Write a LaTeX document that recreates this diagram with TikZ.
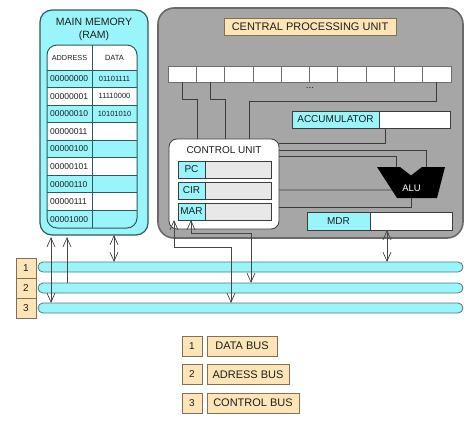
\documentclass[tikz,border=0pt]{standalone}
\usepackage{fontspec}
\setmainfont{Liberation Sans}
\usetikzlibrary{arrows.meta,calc}
\definecolor{cyanF}{RGB}{153,245,250}
\definecolor{memline}{RGB}{45,90,96}
\definecolor{busline}{RGB}{80,120,125}
\definecolor{cpuFill}{RGB}{166,166,166}
\definecolor{cpuLine}{RGB}{105,105,105}
\definecolor{peach}{RGB}{253,229,184}
\definecolor{peachLine}{RGB}{130,112,84}
\definecolor{wireC}{RGB}{60,60,60}
\definecolor{arrC}{RGB}{70,70,70}
\definecolor{regLine}{RGB}{110,110,110}
\definecolor{regGray}{RGB}{232,232,232}
\definecolor{txt}{RGB}{30,30,30}
\begin{document}
\begin{tikzpicture}[x=1pt,y=-1pt,
  font=\fontsize{10}{12}\selectfont, text=txt,
  >={Straight Barb[length=9pt,width=8pt]},
  box/.style={draw, inner sep=0pt, outer sep=0pt, anchor=north west, line width=0.8pt},
  cyanbox/.style={box, fill=cyanF, draw=wireC},
  whitebox/.style={box, fill=white, draw=wireC},
  graybox/.style={box, fill=regGray, draw=wireC},
  peachbox/.style={box, fill=peach, draw=peachLine, line width=1pt},
  cell/.style={box, fill=white, draw=regLine, minimum width=28.3pt, minimum height=16pt},
  busbar/.style={box, fill=cyanF, draw=busline, rounded corners=5pt, minimum width=425pt, minimum height=10pt},
  wire/.style={draw=wireC, line width=0.8pt},
  arr/.style={draw=arrC, line width=0.7pt},
  tabtxt/.style={inner sep=0pt, font=\fontsize{8.5}{10}\selectfont},
  datatxt/.style={inner sep=0pt, font=\fontsize{7.5}{9}\selectfont}
]
\useasboundingbox (0,0) rectangle (474,431);
\fill[white] (0,0) rectangle (474,431);

% ---------- Main memory ----------
\node[box, fill=cyanF, draw=memline, line width=1.2pt, rounded corners=12pt,
      minimum width=108pt, minimum height=225pt] (mem) at (40,10) {};
\node[font=\fontsize{10.5}{12}\selectfont] (memtitle) at (94,22) {MAIN MEMORY};
\node[font=\fontsize{10.5}{12}\selectfont] (memram) at (94,35.5) {(RAM)};

\begin{scope}
  \clip[rounded corners=10pt] (47,45) rectangle (137,228);
  \fill[white] (47,45) rectangle (137,70);
  \foreach \i in {0,...,8}{
    \pgfmathsetmacro{\ya}{70+17.556*\i}
    \pgfmathsetmacro{\yb}{70+17.556*(\i+1)}
    \pgfmathparse{mod(\i,2)==0 ? "cyanF" : "white"}
    \fill[\pgfmathresult] (47,\ya) rectangle (137,\yb);
  }
\end{scope}
\foreach \i in {0,...,8}{
  \pgfmathsetmacro{\ya}{70+17.556*\i}
  \draw[memline, line width=0.8pt] (47,\ya) -- (137,\ya);
}
\draw[memline, line width=0.8pt] (92,45) -- (92,228);
\draw[memline, line width=1pt, rounded corners=10pt] (47,45) rectangle (137,228);

\node[datatxt, font=\fontsize{7.3}{9}\selectfont] (hdaddr) at (69.5,57.5) {ADDRESS};
\node[datatxt, font=\fontsize{7.5}{9}\selectfont] (hddata) at (114.5,57.5) {DATA};
\foreach \a [count=\i from 0] in {00000000,00000001,00000010,00000011,00000100,00000101,00000110,00000111,00001000}{
  \pgfmathsetmacro{\yc}{70+17.556*\i+8.8}
  \node[tabtxt, anchor=west] (addr\i) at (50,\yc) {\a};
}
\foreach \d [count=\i from 0] in {01101111,11110000,10101010}{
  \pgfmathsetmacro{\yc}{70+17.556*\i+8.8}
  \node[datatxt] (data\i) at (114.5,\yc) {\d};
}

% ---------- CPU ----------
\node[box, fill=cpuFill, draw=cpuLine, line width=1.6pt, rounded corners=16pt,
      minimum width=305pt, minimum height=230pt] (cpu) at (158,8) {};
\node[peachbox, minimum width=172pt, minimum height=17pt, font=\fontsize{11}{13}\selectfont]
      (cputitle) at (224,18) {CENTRAL PROCESSING UNIT};

\foreach \i in {1,...,10}{
  \node[cell] (r\i) at ({168+28.3*(\i-1)},66) {};
}
\node (dots) at (310,88) {...};

\node[cyanbox, minimum width=87pt, minimum height=17pt] (acclab) at (292,111) {ACCUMULATOR};
\node[whitebox, minimum width=71pt, minimum height=17pt] (accval) at (379,111) {};

% control unit
\node[box, fill=white, draw=wireC, rounded corners=8pt, minimum width=110pt, minimum height=90pt] (cu) at (169,139) {};
\node (cutitle) at (224,150.5) {CONTROL UNIT};
\node[cyanbox, minimum width=27pt, minimum height=17pt] (pclab) at (178,161) {PC};
\node[graybox, minimum width=66pt, minimum height=17pt] (pcval) at (205,161) {};
\node[cyanbox, minimum width=27pt, minimum height=17pt] (cirlab) at (178,182) {CIR};
\node[graybox, minimum width=66pt, minimum height=17pt] (cirval) at (205,182) {};
\node[cyanbox, minimum width=27pt, minimum height=17pt] (marlab) at (178,203) {MAR};
\node[graybox, minimum width=66pt, minimum height=17pt] (marval) at (205,203) {};

% MDR
\node[cyanbox, minimum width=63pt, minimum height=18pt] (mdrlab) at (307,212) {MDR};
\node[whitebox, minimum width=82pt, minimum height=18pt] (mdrval) at (370,212) {};

% ALU
\coordinate (aluTL) at (377,167);
\coordinate (aluNL) at (400,167);
\coordinate (aluN)  at (411,175.5);
\coordinate (aluNR) at (422,167);
\coordinate (aluTR) at (445,167);
\coordinate (aluBR) at (437,198);
\coordinate (aluBL) at (397,198);
\fill[black] (aluTL) -- (aluNL) -- (aluN) -- (aluNR) -- (aluTR) -- (aluBR) -- (aluBL) -- cycle;
\node[text=white, font=\fontsize{9.5}{11}\selectfont] (alu) at (411.5,188) {ALU};

% wires from register row to control unit
\coordinate (w1) at (197,99);
\coordinate (w2) at (225,99);
\coordinate (w3) at (249,101);
\draw[wire] (r1.south) |- (w1) -- (cu.north -| w1);
\draw[wire] (r2.south) |- (w2) -- (cu.north -| w2);
\draw[wire] (r10.south) |- (w3) -- (cu.north -| w3);

% wires from control unit
\coordinate (acin) at ($(accval.south west)+(6,0)$);
\coordinate (in1) at ($(aluNR)+(4,0)$);
\coordinate (in2) at ($(aluTL)+(19,0)$);
\coordinate (in3) at ($(aluTL)!0.742!(aluBL)$);
\coordinate (in4) at ($(aluBL)!0.35!(aluBR)$);
\draw[wire] ($(cu.north east)+(0,4)$) -| (acin);
\draw[wire] ($(cu.north east)+(0,11)$) -| (in1);
\draw[wire] ($(cu.north east)+(0,17)$) -| (in2);
\draw[wire] ($(cu.north east)+(0,51)$) -- (in3);
\draw[wire] ($(cu.north east)+(0,68)$) -| (in4);

% ---------- Buses ----------
\node[busbar] (bus1) at (38,262) {};
\node[busbar] (bus2) at (38,283) {};
\node[busbar] (bus3) at (38,303) {};
\node[peachbox, minimum width=20pt, minimum height=20pt] (lab1) at (16,258) {1};
\node[peachbox, minimum width=20pt, minimum height=20pt] (lab2) at (16,278) {2};
\node[peachbox, minimum width=20pt, minimum height=20pt] (lab3) at (16,298) {3};

% memory arrows
\coordinate (ma) at ($(mem.south west)+(11,2)$);
\coordinate (mb) at ($(mem.south west)+(27,2)$);
\coordinate (mc) at ($(mem.south west)+(74,0)$);
\draw[arr,<->] (ma) -- (bus3.north -| ma);
\draw[arr,->] (bus2.north -| mb) -- (mb);
\draw[arr,<->] (mc) -- (bus1.north -| mc);

% MDR arrow
\coordinate (md) at ($(mdrval.south west)+(17,0)$);
\draw[arr,<->] (md) -- (bus1.north -| md);

% MAR arrows
\coordinate (mar1) at ($(marlab.south west)+(-4,0)$);
\coordinate (mar2) at ($(marlab.south west)+(13,0)$);
\coordinate (k1) at (231,247);
\coordinate (k2) at (251,233);
\draw[arr,<->] (mar1) |- (k1) -- (bus3.north -| k1);
\draw[arr,<->] (mar2) |- (k2) -- (bus2.north -| k2);

% ---------- Legend ----------
\node[peachbox, minimum width=20pt, minimum height=20pt] (leg1) at (182,336) {1};
\node[peachbox, minimum width=70pt, minimum height=20pt, font=\fontsize{11}{13}\selectfont] (legd1) at (207,336) {DATA BUS};
\node[peachbox, minimum width=20pt, minimum height=20pt] (leg2) at (182,364.5) {2};
\node[peachbox, minimum width=82pt, minimum height=20pt, font=\fontsize{11}{13}\selectfont] (legd2) at (207,364.5) {ADRESS BUS};
\node[peachbox, minimum width=20pt, minimum height=20pt] (leg3) at (182,393) {3};
\node[peachbox, minimum width=92pt, minimum height=20pt, font=\fontsize{11}{13}\selectfont] (legd3) at (207,393) {CONTROL BUS};
\end{tikzpicture}
\end{document}
